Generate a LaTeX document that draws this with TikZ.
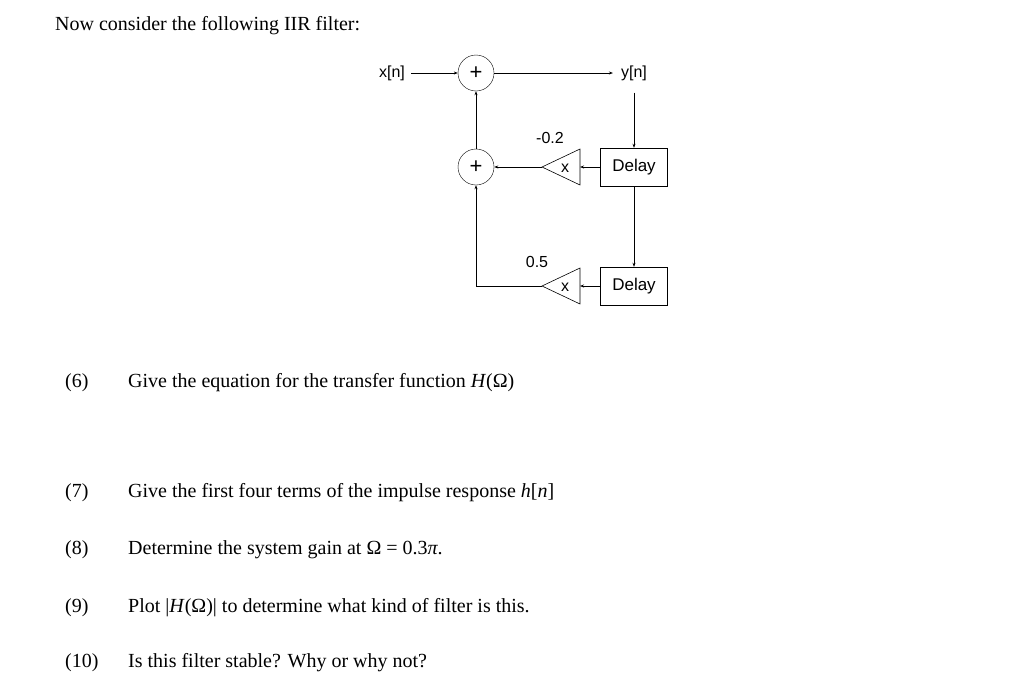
\documentclass[tikz,border=0pt]{standalone}
\usepackage{fontspec}
\setmainfont{Liberation Serif}
\newfontfamily\arialf{Liberation Sans}
\usetikzlibrary{arrows.meta,calc}
\begin{document}
\begin{tikzpicture}[x=1pt,y=-1pt,
  q/.style={anchor=base west,font=\fontsize{20}{24}\selectfont,inner sep=0},
  sumnode/.style={circle,draw,minimum size=36pt,inner sep=0,font=\arialf\fontsize{22}{22}\selectfont},
  dbox/.style={draw,minimum width=67pt,minimum height=38pt,inner sep=0,font=\arialf\fontsize{17}{17}\selectfont},
  lab/.style={font=\arialf\fontsize{16}{16}\selectfont,inner sep=0},
  ar/.style={-{Stealth[length=4pt,width=3pt]},line width=0.6pt},
  ln/.style={line width=0.6pt}]
\useasboundingbox (0,0) rectangle (1024,696);
\node[q] (t) at (55,30) {Now consider the following IIR filter:};
\node[sumnode] (s1) at (476,73) {+};
\node[sumnode] (s2) at (476,167) {+};
\node[lab] (x) at (392,73) {x[n]};
\node[lab] (y) at (634,73) {y[n]};
\node[dbox] (d1) at (634,167) {Delay};
\node[dbox] (d2) at (634,286) {Delay};
\draw[ln] (542,167) -- (580,149) -- (580,185) -- cycle;
\node[lab] (m1) at (565,168) {x};
\draw[ln] (542,286) -- (580,268) -- (580,304) -- cycle;
\node[lab] (m2) at (565,287) {x};
\coordinate (t1) at (542,167); \coordinate (b1) at (580,167);
\coordinate (t2) at (542,286); \coordinate (b2) at (580,286);
\node[lab] (g1) at (550,138) {-0.2};
\node[lab] (g2) at (537,262) {0.5};
\draw[ar] ($(x.east)+(6,0)$) -- (s1.west);
\draw[ar] (s1.east) -- ($(y.west)+(-8,0)$);
\draw[ar] ($(y.south)+(0,12)$) -- (d1.north);
\draw[ar] (d1.south) -- (d2.north);
\draw[ar] (d1.west) -- (b1);
\draw[ar] (d2.west) -- (b2);
\draw[ar] (t1) -- (s2.east);
\draw[ar] (t2) -| (s2.south);
\draw[ar] (s2.north) -- (s1.south);
\node[q] (q6) at (65,387) {(6)};
\node[q] (q6t) at (128,387) {Give the equation for the transfer function \textit{H}(Ω)};
\node[q] (q7) at (65,497) {(7)};
\node[q] (q7t) at (128,497) {Give the first four terms of the impulse response \textit{h}[\textit{n}]};
\node[q] (q8) at (65,554) {(8)};
\node[q] (q8t) at (128,554) {Determine the system gain at Ω = 0.3\textit{π}.};
\node[q] (q9) at (65,612) {(9)};
\node[q] (q9t) at (128,612) {Plot |\textit{H}(Ω)| to determine what kind of filter is this.};
\node[q] (q10) at (65,667) {(10)};
\node[q] (q10t) at (128,667) {Is this filter stable? Why or why not?};
\end{tikzpicture}
\end{document}
